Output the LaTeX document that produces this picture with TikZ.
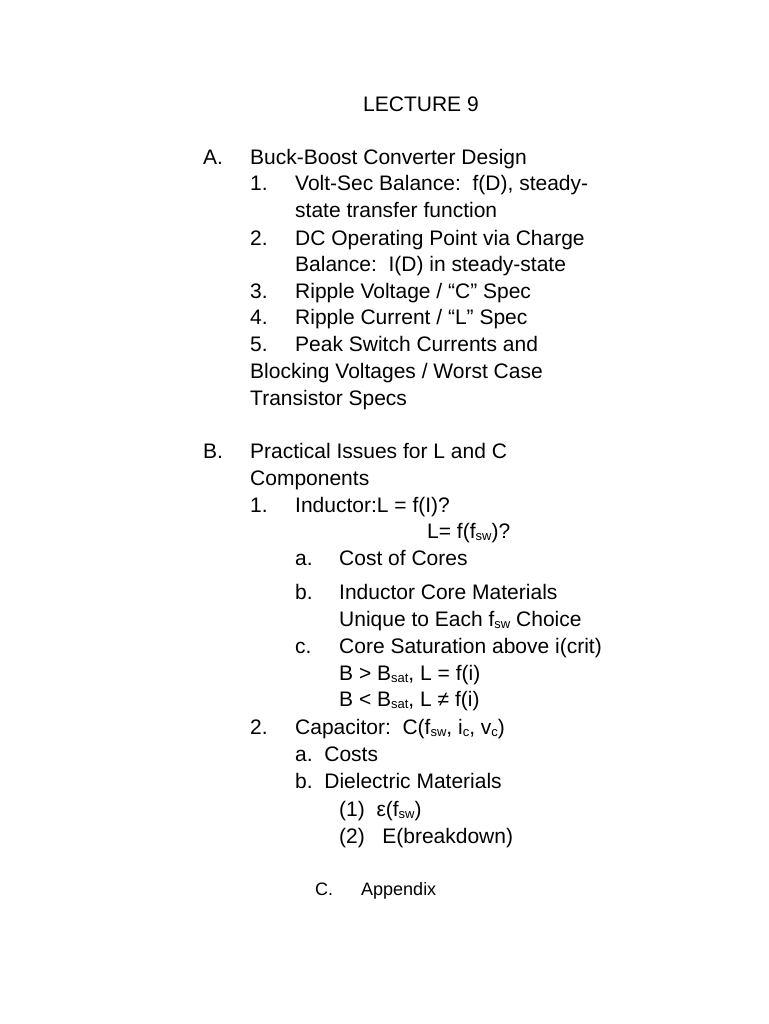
\documentclass[tikz,border=0pt]{standalone}
\usepackage{fontspec}
\setmainfont{Liberation Sans}
\newcommand{\mysb}[1]{\raisebox{-0.25ex}{\fontsize{13}{13}\selectfont #1}}
\begin{document}
\begin{tikzpicture}[x=1pt,y=-1pt,t/.style={anchor=base west,inner sep=0pt,font=\fontsize{21}{21}\selectfont}]
\useasboundingbox (0,0) rectangle (768,1024);
\node[t] (n0) at (363,112) {LECTURE 9};
\node[t] (a) at (203,165) {A.};
\node[t] (a0) at (250,165) {Buck-Boost Converter Design};
\node[t] (a1) at (250,191) {1.};
\node[t] (a1t) at (295,191) {Volt-Sec Balance:\ \ f(D), steady-};
\node[t] (a1u) at (295,218) {state transfer function};
\node[t] (a2) at (250,245) {2.};
\node[t] (a2t) at (295,245) {DC Operating Point via Charge};
\node[t] (a2u) at (295,271) {Balance:\ \ I(D) in steady-state};
\node[t] (a3) at (250,298) {3.};
\node[t] (a3t) at (295,298) {Ripple Voltage / “C” Spec};
\node[t] (a4) at (250,324) {4.};
\node[t] (a4t) at (295,324) {Ripple Current / “L” Spec};
\node[t] (a5) at (250,351) {5.};
\node[t] (a5t) at (295,351) {Peak Switch Currents and};
\node[t] (a5u) at (250,378) {Blocking Voltages / Worst Case};
\node[t] (a5v) at (250,405) {Transistor Specs};
\node[t] (b) at (203,458) {B.};
\node[t] (b0) at (250,458) {Practical Issues for L and C};
\node[t] (b0u) at (250,485) {Components};
\node[t] (b1) at (250,512) {1.};
\node[t] (b1t) at (295,512) {Inductor:L = f(I)?};
\node[t] (b1u) at (427,538) {L= f(f\mysb{sw})?};
\node[t] (ba) at (295,565) {a.};
\node[t] (bat) at (339,565) {Cost of Cores};
\node[t] (bb) at (295,599) {b.};
\node[t] (bbt) at (339,599) {Inductor Core Materials};
\node[t] (bbu) at (339,626) {Unique to Each f\mysb{sw} Choice};
\node[t] (bc) at (295,653) {c.};
\node[t] (bct) at (339,653) {Core Saturation above i(crit)};
\node[t] (bcu) at (339,680) {B > B\mysb{sat}, L = f(i)};
\node[t] (bcv) at (339,706) {B < B\mysb{sat}, L ≠ f(i)};
\node[t] (b2) at (250,734) {2.};
\node[t] (b2t) at (295,734) {Capacitor:\ \ C(f\mysb{sw}, i\mysb{c}, v\mysb{c})};
\node[t] (b2a) at (295,761) {a.\ \ Costs};
\node[t] (b2b) at (295,788) {b.\ \ Dielectric Materials};
\node[t] (b21) at (339,816) {(1)\ \ ε(f\mysb{sw})};
\node[t] (b22) at (339,843) {(2)\ \ \ E(breakdown)};
\node[t,font=\fontsize{18}{18}\selectfont] (c) at (315,895) {C.};
\node[t,font=\fontsize{18}{18}\selectfont] (ct) at (361,895) {Appendix};
\end{tikzpicture}
\end{document}
